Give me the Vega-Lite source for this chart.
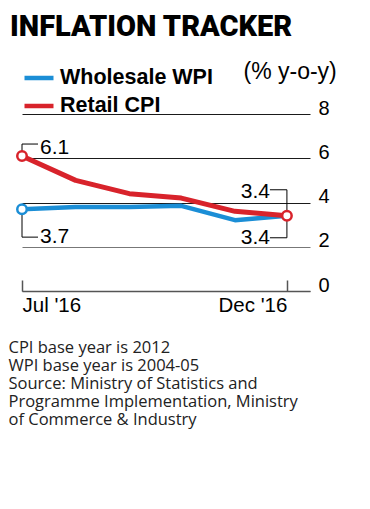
{
  "$schema": "https://vega.github.io/schema/vega-lite/v6.json",
  "width": 288,
  "height": 177,
  "autosize": "none",
  "padding": {"left": 22, "top": 114, "right": 60, "bottom": 218},
  "background": "white",
  "config": {"view": {"stroke": null}},
  "title": {
    "text": "INFLATION TRACKER",
    "anchor": "start",
    "frame": "group",
    "font": "Roboto",
    "fontSize": 29,
    "fontWeight": 900,
    "color": "black",
    "baseline": "alphabetic",
    "offset": -5,
    "dx": -12
  },
  "datasets": {
    "d": [
      {"series": "Wholesale WPI", "month": "Jul", "date": "2016-07-01T00:00:00", "value": 3.7},
      {"series": "Wholesale WPI", "month": "Aug", "date": "2016-08-01T00:00:00", "value": 3.8},
      {"series": "Wholesale WPI", "month": "Sep", "date": "2016-09-01T00:00:00", "value": 3.8},
      {"series": "Wholesale WPI", "month": "Oct", "date": "2016-10-01T00:00:00", "value": 3.85},
      {"series": "Wholesale WPI", "month": "Nov", "date": "2016-11-01T00:00:00", "value": 3.2},
      {"series": "Wholesale WPI", "month": "Dec", "date": "2016-12-01T00:00:00", "value": 3.4},
      {"series": "Retail CPI", "month": "Jul", "date": "2016-07-01T00:00:00", "value": 6.1},
      {"series": "Retail CPI", "month": "Aug", "date": "2016-08-01T00:00:00", "value": 5.0},
      {"series": "Retail CPI", "month": "Sep", "date": "2016-09-01T00:00:00", "value": 4.4},
      {"series": "Retail CPI", "month": "Oct", "date": "2016-10-01T00:00:00", "value": 4.2},
      {"series": "Retail CPI", "month": "Nov", "date": "2016-11-01T00:00:00", "value": 3.6},
      {"series": "Retail CPI", "month": "Dec", "date": "2016-12-01T00:00:00", "value": 3.4}
    ]
  },
  "data": {"name": "d"},
  "encoding": {
    "x": {
      "field": "date",
      "type": "temporal",
      "scale": {"domain": [{"year": 2016, "month": 7, "date": 1}, {"year": 2016, "month": 12, "date": 14, "hours": 8}]},
      "axis": {
        "values": [{"year": 2016, "month": 7, "date": 1}, {"year": 2016, "month": 12, "date": 1}],
        "labelExpr": "timeFormat(datum.value, '%b') + \" '\" + timeFormat(datum.value, '%y')",
        "labelAlign": {"condition": {"test": "month(datum.value) == 6", "value": "left"}, "value": "right"},
        "labelFlush": false,
        "labelOverlap": false,
        "labelFont": "Liberation Sans",
        "labelFontSize": 20.5,
        "labelColor": "black",
        "labelBaseline": "top",
        "labelPadding": 15,
        "domainColor": "#555",
        "domainWidth": 1.5,
        "tickColor": "#555",
        "tickWidth": 1.5,
        "tickSize": -11,
        "grid": false,
        "title": ["CPI base year is 2012", "WPI base year is 2004-05", "Source: Ministry of Statistics and", "Programme Implementation, Ministry", "of Commerce & Industry"],
        "titleFont": "Open Sans",
        "titleFontSize": 16.5,
        "titleFontWeight": "normal",
        "titleColor": "#222",
        "titleAlign": "left",
        "titleAnchor": "start",
        "titleAngle": 0,
        "titleX": -14,
        "titleY": 61,
        "titleBaseline": "alphabetic",
        "titleLineHeight": 18
      }
    },
    "y": {
      "field": "value",
      "type": "quantitative",
      "scale": {"domain": [0, 8], "nice": false},
      "axis": {
        "orient": "right",
        "values": [0, 2, 4, 6, 8],
        "domain": false,
        "ticks": false,
        "grid": true,
        "gridColor": {"condition": {"test": "datum.value <= 2", "value": "#777"}, "value": "#1a1a1a"},
        "gridWidth": 1,
        "labelFont": "Liberation Sans",
        "labelFontSize": 20,
        "labelColor": "black",
        "labelBaseline": "alphabetic",
        "labelAlign": "left",
        "labelPadding": 8,
        "title": "(% y-o-y)",
        "titleAngle": 0,
        "titleX": -67,
        "titleY": -36,
        "titleAlign": "left",
        "titleBaseline": "alphabetic",
        "titleFont": "Liberation Sans",
        "titleFontSize": 23,
        "titleFontWeight": "normal",
        "titleColor": "black"
      }
    }
  },
  "layer": [
    {
      "transform": [{"filter": "datum.series == 'Retail CPI' && datum.month == 'Jul'"}],
      "mark": {"type": "rule", "color": "black", "strokeWidth": 1, "y2Offset": -12},
      "encoding": {"y2": {"field": "value"}}
    },
    {
      "transform": [{"filter": "datum.series == 'Retail CPI' && datum.month == 'Jul'"}],
      "mark": {"type": "rule", "color": "black", "strokeWidth": 1, "yOffset": -12, "x2Offset": 16},
      "encoding": {"x2": {"field": "date"}}
    },
    {
      "transform": [{"filter": "datum.series == 'Wholesale WPI' && datum.month == 'Jul'"}],
      "mark": {"type": "rule", "color": "black", "strokeWidth": 1, "y2Offset": 28},
      "encoding": {"y2": {"field": "value"}}
    },
    {
      "transform": [{"filter": "datum.series == 'Wholesale WPI' && datum.month == 'Jul'"}],
      "mark": {"type": "rule", "color": "black", "strokeWidth": 1, "yOffset": 28, "x2Offset": 16},
      "encoding": {"x2": {"field": "date"}}
    },
    {
      "transform": [{"filter": "datum.series == 'Retail CPI' && datum.month == 'Dec'"}],
      "mark": {"type": "rule", "color": "black", "strokeWidth": 1, "y2Offset": -26},
      "encoding": {"y2": {"field": "value"}}
    },
    {
      "transform": [{"filter": "datum.series == 'Retail CPI' && datum.month == 'Dec'"}],
      "mark": {"type": "rule", "color": "black", "strokeWidth": 1, "yOffset": -26, "x2Offset": -17},
      "encoding": {"x2": {"field": "date"}}
    },
    {
      "transform": [{"filter": "datum.series == 'Wholesale WPI' && datum.month == 'Dec'"}],
      "mark": {"type": "rule", "color": "black", "strokeWidth": 1, "y2Offset": 22},
      "encoding": {"y2": {"field": "value"}}
    },
    {
      "transform": [{"filter": "datum.series == 'Wholesale WPI' && datum.month == 'Dec'"}],
      "mark": {"type": "rule", "color": "black", "strokeWidth": 1, "yOffset": 22, "x2Offset": -17},
      "encoding": {"x2": {"field": "date"}}
    },
    {
      "transform": [{"filter": "datum.series == 'Wholesale WPI'"}],
      "mark": {"type": "line", "strokeWidth": 4.5, "strokeCap": "round", "strokeJoin": "round"},
      "encoding": {
        "color": {
          "field": "series",
          "type": "nominal",
          "scale": {"domain": ["Wholesale WPI", "Retail CPI"], "range": ["#1b8ed6", "#d8232b"]},
          "legend": {
            "orient": "none",
            "legendX": 0,
            "legendY": -53,
            "title": null,
            "padding": 0,
            "symbolType": "stroke",
            "symbolSize": 841,
            "symbolStrokeWidth": 4.5,
            "labelFont": "Liberation Sans",
            "labelFontWeight": "bold",
            "labelFontSize": 21.5,
            "labelColor": "black",
            "labelOffset": 4,
            "rowPadding": -6
          }
        }
      }
    },
    {
      "transform": [{"filter": "datum.series == 'Retail CPI'"}],
      "mark": {"type": "line", "strokeWidth": 5, "strokeCap": "round", "strokeJoin": "round"},
      "encoding": {"color": {"field": "series", "type": "nominal"}}
    },
    {
      "transform": [{"filter": "datum.series == 'Wholesale WPI' && datum.month == 'Jul'"}],
      "mark": {"type": "point", "filled": false, "fill": "white", "fillOpacity": 1, "opacity": 1, "size": 90, "strokeWidth": 2.5},
      "encoding": {"color": {"field": "series", "type": "nominal", "legend": null}}
    },
    {
      "transform": [{"filter": "datum.series == 'Retail CPI' && (datum.month == 'Jul' || datum.month == 'Dec')"}],
      "mark": {"type": "point", "filled": false, "fill": "white", "fillOpacity": 1, "opacity": 1, "size": 90, "strokeWidth": 2.5},
      "encoding": {"color": {"field": "series", "type": "nominal", "legend": null}}
    },
    {
      "transform": [{"filter": "datum.series == 'Retail CPI' && datum.month == 'Jul'"}],
      "mark": {"type": "text", "align": "left", "baseline": "alphabetic", "dx": 18, "dy": -2, "font": "Liberation Sans", "fontSize": 21, "color": "black"},
      "encoding": {"text": {"field": "value", "format": ".1f"}}
    },
    {
      "transform": [{"filter": "datum.series == 'Wholesale WPI' && datum.month == 'Jul'"}],
      "mark": {"type": "text", "align": "left", "baseline": "alphabetic", "dx": 18, "dy": 34, "font": "Liberation Sans", "fontSize": 21, "color": "black"},
      "encoding": {"text": {"field": "value", "format": ".1f"}}
    },
    {
      "transform": [{"filter": "datum.series == 'Retail CPI' && datum.month == 'Dec'"}],
      "mark": {"type": "text", "align": "right", "baseline": "alphabetic", "dx": -17, "dy": -18, "font": "Liberation Sans", "fontSize": 21, "color": "black"},
      "encoding": {"text": {"field": "value", "format": ".1f"}}
    },
    {
      "transform": [{"filter": "datum.series == 'Wholesale WPI' && datum.month == 'Dec'"}],
      "mark": {"type": "text", "align": "right", "baseline": "alphabetic", "dx": -17, "dy": 28, "font": "Liberation Sans", "fontSize": 21, "color": "black"},
      "encoding": {"text": {"field": "value", "format": ".1f"}}
    }
  ]
}
